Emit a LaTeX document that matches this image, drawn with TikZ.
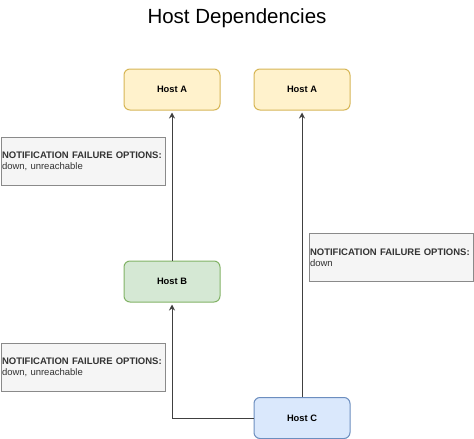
\documentclass[tikz,border=0pt]{standalone}
\usepackage{fontspec}
\setmainfont{Liberation Sans}
\usepackage{tikz}
\usepackage{xcolor}
\usetikzlibrary{arrows.meta}

\definecolor{yellowfill}{HTML}{FFF2CC}
\definecolor{yellowline}{HTML}{D6B656}
\definecolor{greenfill}{HTML}{D5E8D4}
\definecolor{greenline}{HTML}{82B366}
\definecolor{bluefill}{HTML}{DAE8FC}
\definecolor{blueline}{HTML}{6C8EBF}
\definecolor{notefill}{HTML}{F5F5F5}
\definecolor{noteline}{HTML}{8A8A8A}
\definecolor{notetext}{HTML}{333333}

\tikzset{
    hostbox/.style={draw, line width=1pt, rounded corners=6pt, minimum width=96pt, minimum height=41pt,
        font=\fontsize{9.3}{11}\selectfont\bfseries},
    notebox/.style={draw=noteline, fill=notefill, line width=1pt, minimum width=164pt, minimum height=48pt,
        text width=162pt, inner xsep=1pt, align=left, text=notetext, font=\fontsize{9.5}{12}\selectfont},
    dep/.style={draw=black!75, line width=1pt, shorten >=2pt, -{Stealth[length=6pt,width=6pt]}}
}

\begin{document}
\begin{tikzpicture}[x=1pt,y=-1pt]
            \useasboundingbox (0,0) rectangle (474,439);

            % title
            \node (title) at (237,18) {\fontsize{20.5}{24}\selectfont Host Dependencies};

            % hosts
            \node[hostbox, fill=yellowfill, draw=yellowline] (hostA1) at (172,89.5) {Host A};
            \node[hostbox, fill=yellowfill, draw=yellowline] (hostA2) at (302,89.5) {Host A};
            \node[hostbox, fill=greenfill, draw=greenline] (hostB) at (172,281.5) {Host B};
            \node[hostbox, fill=bluefill, draw=blueline] (hostC) at (302,418) {Host C};

            % notification notes
            \node[notebox] (noteB) at (83,161) {\textbf{NOTIFICATION FAILURE OPTIONS:}\\[-1pt]down, unreachable};
            \node[notebox] (noteC2) at (391,257.5) {\textbf{NOTIFICATION FAILURE OPTIONS:}\\[-1pt]down};
            \node[notebox] (noteC1) at (83,367) {\textbf{NOTIFICATION FAILURE OPTIONS:}\\[-1pt]down, unreachable};

            % draw dependencies
            \draw[dep] (hostB) -- (hostA1);
            \draw[dep] (hostC) -- (hostA2);
            \draw[dep] (hostC.west) -| (hostB.south);
        \end{tikzpicture}
\end{document}
